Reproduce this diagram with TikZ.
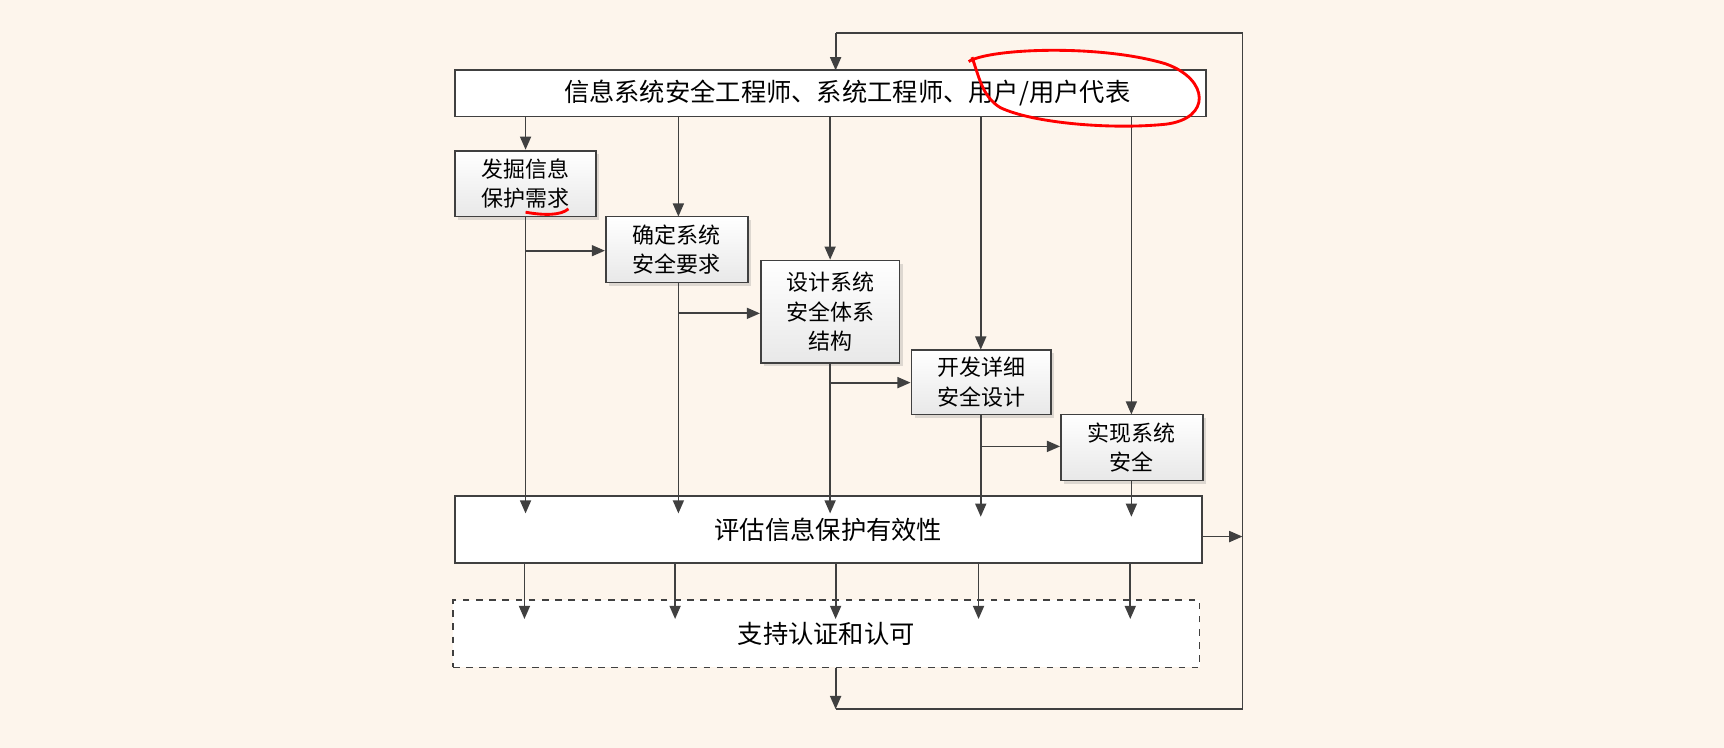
\documentclass[tikz,border=0pt]{standalone}
\usepackage{fontspec}
\setmainfont{Noto Sans CJK SC}
\usetikzlibrary{arrows.meta,shadows}
\definecolor{bg}{HTML}{FDF5EC}
\definecolor{ln}{HTML}{404040}
\begin{document}
\begin{tikzpicture}[x=0.5pt,y=-0.5pt,
  stepbox/.style={draw=ln,thick,top color=white,bottom color=gray!18,drop shadow={shadow xshift=1.5pt,shadow yshift=-1.5pt,opacity=0.25},align=center,font=\fontsize{10}{13.5}\selectfont,inner sep=0pt},
  wide/.style={draw=ln,thick,fill=white,font=\fontsize{11.5}{13}\selectfont,inner sep=0pt},
  arr/.style={draw=ln,thick,-{Triangle[length=6pt,width=5pt]}}]
\fill[bg] (0,0) rectangle (1568,680);
\useasboundingbox (0,0) rectangle (1568,680);
\node[wide,minimum width=341.5pt,minimum height=21pt] (top) at (755.5,85) {\hspace*{15pt}信息系统安全工程师、系统工程师、用户/用户代表};
\node[stepbox,minimum width=64pt,minimum height=30pt] (b1) at (478,167) {发掘信息\\保护需求};
\node[stepbox,minimum width=64.5pt,minimum height=30pt] (b2) at (615.5,227) {确定系统\\安全要求};
\node[stepbox,minimum width=63pt,minimum height=46.5pt] (b3) at (755,283.5) {设计系统\\安全体系\\结构};
\node[stepbox,minimum width=63.5pt,minimum height=29.5pt] (b4) at (892.5,347.5) {开发详细\\安全设计};
\node[stepbox,minimum width=64.5pt,minimum height=30pt] (b5) at (1029.5,407) {实现系统\\安全};
\node[wide,minimum width=339.5pt,minimum height=30.5pt] (ev) at (753.5,481.5) {评估信息保护有效性};
\node[draw=ln,thick,dashed,fill=white,minimum width=339.5pt,minimum height=30.5pt,font=\fontsize{11.5}{13}\selectfont,inner sep=0pt] (cert) at (751.5,576.5) {支持认证和认可};
% from top box
\draw[arr] (478,106) -- (b1.north);
\draw[arr] (617,106) -- (617,197);
\draw[arr] (755,106) -- (b3.north);
\draw[arr] (892,106) -- (892,318);
\draw[arr] (1029,106) -- (1029,377);
% into eval
\draw[arr] (b1.south) -- (478,467);
\draw[arr] (617,257) -- (617,467);
\draw[arr] (b3.south) -- (755,467);
\draw[arr] (892,377) -- (892,470);
\draw[arr] (1029,437) -- (1029,470);
% branches
\coordinate (j1) at (478,228); \draw[arr] (j1) -- (b2.west|-j1);
\coordinate (j2) at (617,285); \draw[arr] (j2) -- (b3.west|-j2);
\coordinate (j3) at (755,348); \draw[arr] (j3) -- (b4.west|-j3);
\coordinate (j4) at (892,406); \draw[arr] (j4) -- (b5.west|-j4);
% eval to cert
\foreach \x in {477,614,760,890,1028} \draw[arr] (\x,512) -- (\x,563);
% feedback
\coordinate (fr) at (1130,488);
\draw[arr] (ev.east|-fr) -- (fr);
\coordinate (fb) at (760,645);
\draw[arr] (cert.south-|fb) -- (760,645);
\draw[ln,thick] (760,645) -- (1130,645) -- (1130,30) -- (760,30);
\draw[arr] (760,30) -- (760,64);
% red annotations
\draw[red,line width=1.3pt] (881,56) .. controls (900,44) and (1000,40) .. (1060,58) .. controls (1100,72) and (1102,108) .. (1060,113) .. controls (1010,118) and (940,112) .. (910,98) .. controls (893,88) and (890,68) .. (884,52);
\draw[red,line width=1.3pt] (478,193) .. controls (495,196) and (510,196) .. (517,190);
\end{tikzpicture}
\end{document}
